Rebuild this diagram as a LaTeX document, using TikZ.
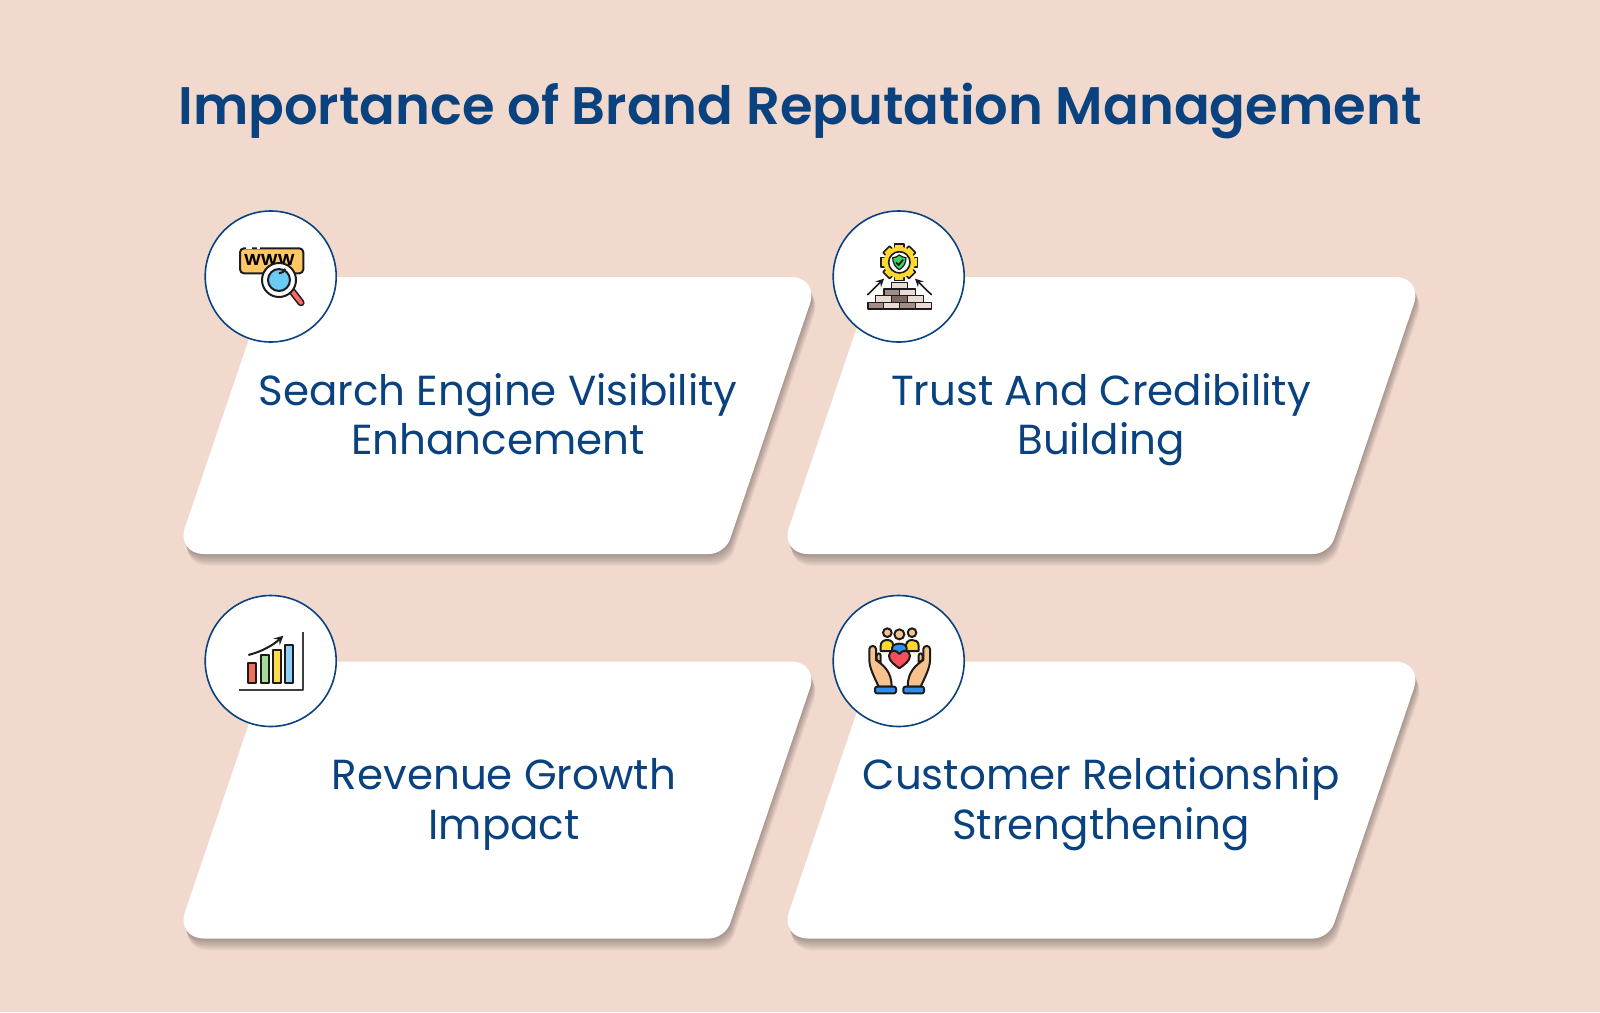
\documentclass[tikz,border=0pt]{standalone}
\usepackage{fontspec}
\setmainfont{Poppins}[FontFace={m}{n}{Font=* Medium},BoldFont={* SemiBold}]
\usetikzlibrary{positioning}
\definecolor{mbg}{HTML}{F2D9CE}
\definecolor{mnavy}{HTML}{0A427F}
\definecolor{mink}{HTML}{1C1C1C}
\definecolor{mamber}{HTML}{FFC864}
\definecolor{myellow}{HTML}{FFD92E}
\definecolor{mblue}{HTML}{2F8FEF}
\definecolor{msky}{HTML}{6CCBF5}
\definecolor{mskin}{HTML}{F8C28C}
\definecolor{mred}{HTML}{F5505A}
\definecolor{mgreen}{HTML}{3FD45A}
\definecolor{mbrickd}{HTML}{A38D86}
\definecolor{mbrickl}{HTML}{EADBD5}
\definecolor{mbrickm}{HTML}{7C6860}
\definecolor{mbara}{HTML}{F0705A}
\definecolor{mbarb}{HTML}{A5DC9C}
\definecolor{mbarc}{HTML}{FFD94A}
\definecolor{mbard}{HTML}{8FD0FA}
\tikzset{cardtext/.style = {text = mnavy, align = center, font = \fontsize{21}{24.8}\selectfont}}
\tikzset{badge/.style = {circle, draw = mnavy, line width = 0.8pt, fill = white, minimum size = 65.5pt, inner sep = 0}}
\tikzset{icon/.style = {x = 0.16667pt, y = -0.16667pt, line width = 1pt, draw = mink, line join = round}}
\tikzset{brick/.style = {draw = mink, line width = 0.7pt}}
\newcommand{\cardoutline}{(545, 277) [rounded corners=14pt] -- (819, 277) [rounded corners=8pt] -- (725, 554) [rounded corners=14pt] -- (176, 554) [rounded corners=8pt] -- (270, 277) -- cycle}
\begin{document}
\begin{tikzpicture}[x = 0.5pt, y = -0.5pt]
      \useasboundingbox (0, 0) rectangle (1600, 1012);
      \fill [mbg] (0, 0) rectangle (1600, 1012);

      \node [anchor = base, text = mnavy, font = \fontsize{26.4}{32}\selectfont\bfseries] (title) at (800, 124)
        {Importance of Brand Reputation Management};

      % the four cards
      \foreach \x in {0, 604} {
        \foreach \y in {0, 384.5} {
          \foreach \d in {1, ..., 12} {
            \fill [black, opacity=0.028, shift={(\x + 0.35*\d, \y + \d)}] \cardoutline;
          }
          \fill [white, shift={(\x, \y)}] \cardoutline;
        }
      }

      \node [badge] (searchbadge) at (270.7, 276.5) {};
      \node [badge] (trustbadge) at (898.7, 276.5) {};
      \node [badge] (revenuebadge) at (270.7, 661) {};
      \node [badge] (customerbadge) at (898.7, 661) {};

      \node [cardtext] (search) at (498, 420) {\strut Search Engine Visibility\\\strut Enhancement};
      \node [cardtext] (trust) at (1101, 420) {\strut Trust And Credibility\\\strut Building};
      \node [cardtext] (revenue) at (504, 804.5) {\strut Revenue Growth\\\strut Impact};
      \node [cardtext] (customer) at (1101, 804.5) {\strut Customer Relationship\\\strut Strengthening};

      % www and magnifier
      \begin{scope}[shift = {(190, 200)}, icon]
        \draw [fill = mamber, rounded corners = 2pt] (150, 145) -- (340, 145) -- (340, 220) -- (150, 220) -- cycle;
        \draw [white, line width = 1.1pt] (168, 145) -- (186, 145);
        \draw [white, line width = 1.1pt] (200, 145) -- (210, 145);
        \node [inner sep = 0, text = black, font = \fontsize{10}{10}\selectfont\bfseries] (www) at (238, 179) {www};
        \draw [mink, line width = 3.6pt, line cap = round] (305, 272) -- (333, 308);
        \draw [red!60!white, line width = 2pt, line cap = round] (305, 272) -- (333, 308);
        \draw [fill = white] (267, 240) circle [radius = 51];
        \draw [fill = msky] (267, 240) circle [radius = 33];
        \draw (267, 220) arc [start angle = 90, end angle = 20, radius = 20];
      \end{scope}

      % gear on bricks
      \begin{scope}[shift = {(820, 200)}, icon, line width = 0.8pt]
        \foreach \a in {0, 45, ..., 315} {
          \draw [fill = myellow, rotate around = {\a:(238, 187)}] (224, 132) rectangle (252, 155);
        }
        \fill [myellow] (238, 187) circle [radius = 47];
        \draw [fill = white] (238, 187) circle [radius = 32];
        \draw [fill = mgreen, line width = 0.6pt] (238, 165) .. controls (245, 171) and (250, 172) .. (258, 173) .. controls (258, 190) and (250, 202) .. (238, 209) .. controls (226, 202) and (218, 190) .. (218, 173) .. controls (226, 172) and (231, 171) .. (238, 165) -- cycle;
        \draw [line width = 0.9pt] (228, 187) -- (236, 195) -- (249, 179);
        \draw [brick, fill = mbrickl] (215, 247) rectangle (262, 267);
        \draw [brick, fill = mbrickd] (192, 267) rectangle (238, 287);
        \draw [brick, fill = mbrickl] (238, 267) rectangle (286, 287);
        \draw [brick, fill = mbrickl] (167, 287) rectangle (215, 307);
        \draw [brick, fill = mbrickm] (215, 287) rectangle (262, 307);
        \draw [brick, fill = mbrickl] (262, 287) rectangle (311, 307);
        \draw [brick, fill = mbrickd] (144, 307) rectangle (190, 327);
        \draw [brick, fill = mbrickl] (190, 307) rectangle (238, 327);
        \draw [brick, fill = mbrickd] (238, 307) rectangle (286, 327);
        \draw [brick, fill = mbrickl] (286, 307) rectangle (334, 327);
        \draw [-stealth] (142, 285) -- (192, 236);
        \draw [-stealth] (335, 285) -- (285, 236);
      \end{scope}

      % bar chart
      \begin{scope}[shift = {(190, 585)}, icon]
        \draw [draw = mink!85!white] (338, 140) -- (338, 315) -- (148, 315);
        \draw [fill = mbara] (175, 233) rectangle (199, 293);
        \draw [fill = mbarb] (213, 210) rectangle (237, 293);
        \draw [fill = mbarc] (249, 194) rectangle (273, 293);
        \draw [fill = mbard] (286, 180) rectangle (310, 293);
        \draw [-stealth] (175, 210) .. controls (215, 200) and (250, 180) .. (280, 152);
      \end{scope}

      % hands, people and heart
      \begin{scope}[shift = {(820, 585)}, icon]
        \draw [fill = mskin] (202, 143) circle [radius = 13];
        \draw [fill = mskin] (276, 143) circle [radius = 13];
        \draw [fill = mskin] (238, 148) circle [radius = 15];
        \draw [fill = myellow] (182, 198) -- (182, 182) .. controls (182, 168) and (195, 165) .. (202, 165) .. controls (215, 165) and (222, 172) .. (222, 198) -- cycle;
        \draw [fill = myellow] (256, 198) .. controls (256, 172) and (263, 165) .. (276, 165) .. controls (285, 165) and (296, 168) .. (296, 182) -- (296, 198) -- cycle;
        \draw [fill = mblue] (216, 205) -- (216, 190) .. controls (216, 180) and (228, 176) .. (238, 176) .. controls (250, 176) and (260, 180) .. (260, 190) -- (260, 205) -- cycle;
        \draw [fill = mred] (238, 250) .. controls (222, 238) and (207, 228) .. (207, 212) .. controls (207, 195) and (230, 192) .. (238, 207) .. controls (246, 192) and (270, 195) .. (270, 212) .. controls (270, 228) and (254, 238) .. (238, 250) -- cycle;
        \draw [fill = mskin] (170, 225) -- (170, 212) .. controls (172, 202) and (182, 204) .. (182, 212) -- (182, 232) -- cycle;
        \draw [fill = mskin] (308, 225) -- (308, 212) .. controls (306, 202) and (296, 204) .. (296, 212) -- (296, 232) -- cycle;
        \draw [fill = mskin] (176, 305) .. controls (165, 280) and (148, 250) .. (148, 225) -- (148, 192) .. controls (148, 180) and (168, 180) .. (168, 192) -- (168, 225) .. controls (190, 240) and (215, 260) .. (215, 305) -- cycle;
        \draw [fill = mskin] (302, 305) .. controls (313, 280) and (330, 250) .. (330, 225) -- (330, 192) .. controls (330, 180) and (310, 180) .. (310, 192) -- (310, 225) .. controls (288, 240) and (263, 260) .. (263, 305) -- cycle;
        \draw [fill = mblue, rounded corners = 1pt] (165, 305) rectangle (228, 325);
        \draw [fill = mblue, rounded corners = 1pt] (250, 305) rectangle (312, 325);
      \end{scope}
    \end{tikzpicture}
\end{document}
